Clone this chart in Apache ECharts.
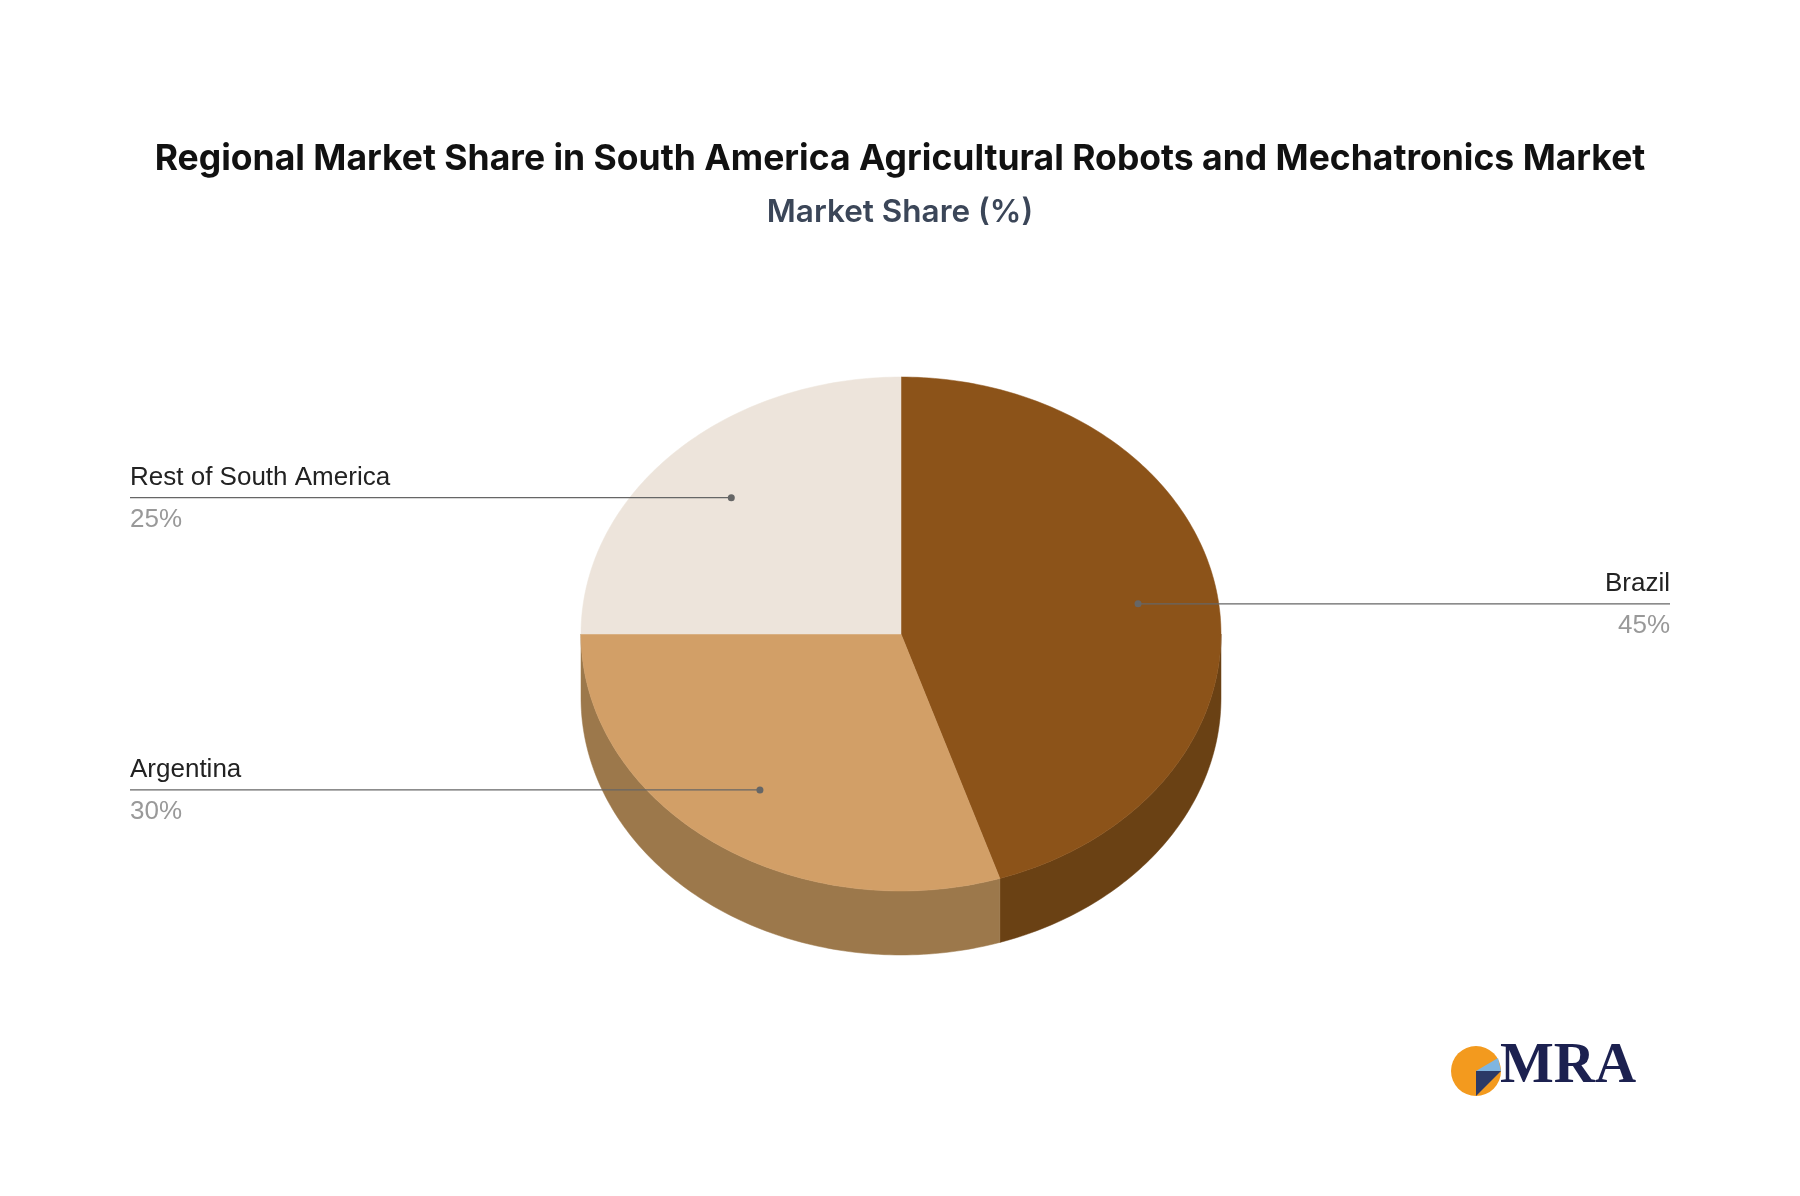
<!DOCTYPE html><html><head><meta charset="utf-8">
<script src="https://cdn.jsdelivr.net/npm/echarts@6/dist/echarts.min.js"></script>
<style>html,body{margin:0;padding:0;background:#fff}#c{width:1800px;height:1196px}</style></head>
<body><div id="c"></div><script>
const categories = ['Brazil','Argentina','Rest of South America'];
const values = [45,30,25];
const topColors = ['#8C5319','#D29F67','#EDE4DB'];
const sideColors = ['#6A4114','#9C784B','#C9BFB4'];

const chart = echarts.init(document.getElementById('c'));
const total = values.reduce((a,b)=>a+b,0);
let acc = 0;
const slices = values.map((v,i)=>{const s=acc/total*360; acc+=v; return [s, acc/total*360, i];});

const CX=901, CY=634, RX=320, RY=257, DEPTH=64;
const pt=(t,r=1,dy=0)=>{const a=t*Math.PI/180;return [CX+RX*r*Math.sin(a), CY-RY*r*Math.cos(a)+dy];};

function renderItem(params, api){
  const s=api.value(0), e=api.value(1), i=api.value(2);
  const ch=[];
  const a=Math.max(s,90), b=Math.min(e,270);
  if(b>a){
    const pts=[];
    for(let t=a;t<=b+1e-9;t+=1) pts.push(pt(Math.min(t,b)));
    pts.push(pt(b));
    for(let t=b;t>=a-1e-9;t-=1) pts.push(pt(Math.max(t,a),1,DEPTH));
    pts.push(pt(a,1,DEPTH));
    ch.push({type:'polygon',z2:1,shape:{points:pts},style:{fill:sideColors[i],stroke:sideColors[i],lineWidth:0.5}});
  }
  const tp=[[CX,CY]];
  for(let t=s;t<=e+1e-9;t+=1) tp.push(pt(Math.min(t,e)));
  tp.push(pt(e));
  ch.push({type:'polygon',z2:10,shape:{points:tp},style:{fill:topColors[i],stroke:topColors[i],lineWidth:0.5}});
  const m=(s+e)/2, p=pt(m,0.75);
  const right=Math.sin(m*Math.PI/180)>0;
  const ex=right?1670:130;
  ch.push({type:'line',z2:20,shape:{x1:p[0],y1:p[1],x2:ex,y2:p[1]},style:{stroke:'#666',lineWidth:1.2}});
  ch.push({type:'circle',z2:21,shape:{cx:p[0],cy:p[1],r:3.5},style:{fill:'#666'}});
  ch.push({type:'text',z2:21,style:{x:ex,y:p[1]-7,text:categories[i],fill:'#222',font:'26px "Liberation Sans", Arial',textAlign:right?'right':'left',textVerticalAlign:'bottom'}});
  ch.push({type:'text',z2:21,style:{x:ex,y:p[1]+9,text:values[i]+'%',fill:'#999',font:'26px "Liberation Sans", Arial',textAlign:right?'right':'left',textVerticalAlign:'top'}});
  return {type:'group',children:ch};
}

chart.setOption({
  backgroundColor:'#fff',
  animation:false,
  title:{text:'Regional Market Share in South America Agricultural Robots and Mechatronics Market',
    subtext:'Market Share (%)',left:'center',top:136,itemGap:20,
    textStyle:{fontFamily:'Inter',fontWeight:'bold',fontSize:35.5,color:'#111'},
    subtextStyle:{fontFamily:'Inter',fontWeight:'600',fontSize:31.5,color:'#3B4658'}},
  series:[{type:'custom',coordinateSystem:'none',renderItem,data:slices}],
  graphic:[
    {type:'circle',shape:{cx:1476,cy:1071,r:25},style:{fill:'#F39A1E'}},
    {type:'polygon',shape:{points:[[1476,1071],[1501,1071],[1476,1096]]},style:{fill:'#2B3A67'}},
    {type:'polygon',shape:{points:[[1476,1071],[1498,1058],[1501,1071]]},style:{fill:'#7FB5E0'}},
    {type:'text',style:{x:1500,y:1096,text:'MRA',fill:'#1C2150',font:'bold 57px "Liberation Serif", serif',textVerticalAlign:'bottom'}}
  ]
});
</script></body></html>
